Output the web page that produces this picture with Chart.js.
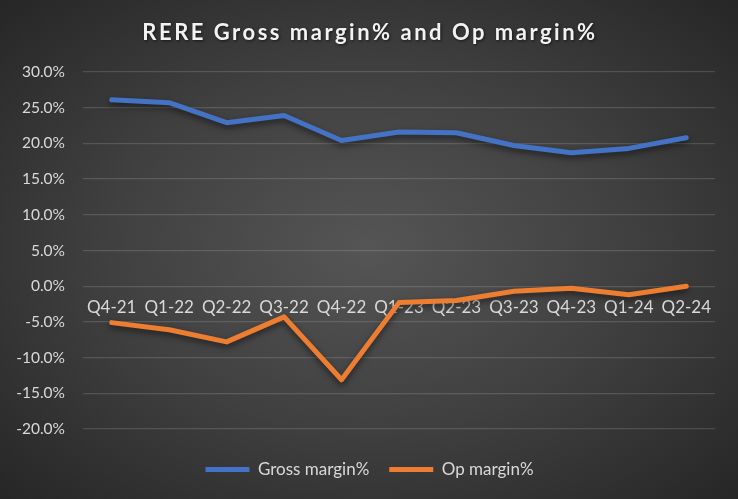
<!DOCTYPE html>
<html>
<head>
<meta charset="utf-8">
<script src="https://cdn.jsdelivr.net/npm/chart.js@4"></script>
<style>
  html, body { margin: 0; padding: 0; }
  body {
    width: 738px; height: 499px; overflow: hidden;
    background: radial-gradient(ellipse at 50% 50%, #555555 0%, #404040 50%, #262626 100%);
  }
  #wrap { position: relative; width: 738px; height: 499px; }
</style>
</head>
<body>
<div id="wrap"><canvas id="chart"></canvas></div>
<script>
// DATA
let categories = ["Q4-21", "Q1-22", "Q2-22", "Q3-22", "Q4-22", "Q1-23", "Q2-23", "Q3-23", "Q4-23", "Q1-24", "Q2-24"];
let grossMargin = [26.1, 25.7, 22.9, 23.9, 20.4, 21.6, 21.5, 19.7, 18.7, 19.3, 20.8];
let opMargin = [-5.1, -6.1, -7.8, -4.3, -13.1, -2.3, -2.0, -0.7, -0.3, -1.2, 0.0];
let titleText = "RERE Gross margin% and Op margin%";

let textColor = "#d9d9d9";
let font = "Lato, 'Open Sans', sans-serif";

// title drawn by hand so it can have letter spacing + shadow
let titlePlugin = {
  id: "spacedTitle",
  afterDraw(chart) {
    let c = chart.ctx;
    c.save();
    c.font = "bold 22px " + font;
    c.letterSpacing = "2.5px";
    c.fillStyle = "#f2f2f2";
    c.textAlign = "center";
    c.textBaseline = "middle";
    c.shadowColor = "rgba(0,0,0,0.6)";
    c.shadowBlur = 3;
    c.shadowOffsetX = 1;
    c.shadowOffsetY = 1;
    c.fillText(titleText, chart.width / 2 + 1, 33);
    c.restore();
  }
};

// soft shadow under the lines
let shadowPlugin = {
  id: "lineShadow",
  beforeDatasetDraw(chart) {
    let c = chart.ctx;
    c.save();
    c.shadowColor = "rgba(0,0,0,0.55)";
    c.shadowBlur = 6;
    c.shadowOffsetY = 3;
  },
  afterDatasetDraw(chart) {
    chart.ctx.restore();
  }
};

// centre the legend on the whole canvas, not on the padded box
let legendShift = {
  id: "legendShift",
  afterLayout(chart) {
    chart.legend.left += 12;
    chart.legend.right += 12;
  }
};

let ctx = document.getElementById("chart").getContext("2d");
let chart = new Chart(ctx, {
  type: "line",
  data: {
    labels: categories,
    datasets: [
      {
        label: "Gross margin%",
        data: grossMargin,
        borderColor: "#4472c4",
        backgroundColor: "#4472c4",
        borderWidth: 5,
        borderCapStyle: "round",
        borderJoinStyle: "round",
        pointRadius: 0,
        tension: 0
      },
      {
        label: "Op margin%",
        data: opMargin,
        borderColor: "#ed7d31",
        backgroundColor: "#ed7d31",
        borderWidth: 5,
        borderCapStyle: "round",
        borderJoinStyle: "round",
        pointRadius: 0,
        tension: 0
      }
    ]
  },
  options: {
    responsive: true,
    maintainAspectRatio: false,
    animation: false,
    layout: { padding: { top: 72, left: 0, right: 23, bottom: 11 } },
    plugins: {
      title: { display: false },
      tooltip: { enabled: false },
      legend: {
        position: "bottom",
        title: { display: true, text: " ", font: { size: 10 }, padding: 0 },
        labels: {
          color: textColor,
          font: { family: font, size: 17 },
          boxWidth: 44,
          boxHeight: 5,
          useBorderRadius: true,
          borderRadius: 2.5,
          padding: 20,
          generateLabels(ch) {
            return ch.data.datasets.map((ds, i) => ({
              text: ds.label,
              fillStyle: ds.borderColor,
              strokeStyle: ds.borderColor,
              lineWidth: 0,
              fontColor: textColor,
              datasetIndex: i
            }));
          }
        }
      }
    },
    scales: {
      x: {
        position: { y: 0 },
        offset: true,
        grid: { display: false, drawTicks: false },
        border: { display: false },
        ticks: {
          color: textColor,
          font: { family: font, size: 17 },
          padding: 11,
          maxRotation: 0,
          autoSkip: false
        }
      },
      y: {
        min: -20,
        max: 30,
        grid: { color: "rgba(217,217,217,0.18)", lineWidth: 1.3, drawTicks: false },
        border: { display: false },
        ticks: {
          stepSize: 5,
          color: textColor,
          font: { family: font, size: 15.5 },
          padding: 18,
          callback: v => v.toFixed(1) + "%"
        },
        afterFit(scale) { scale.width = 83; }
      }
    }
  },
  plugins: [titlePlugin, shadowPlugin, legendShift]
});
</script>
</body>
</html>
